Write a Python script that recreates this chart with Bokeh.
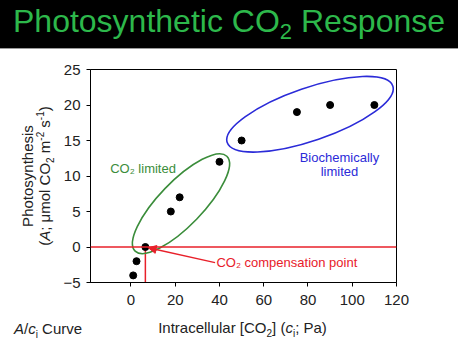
import math
from bokeh.plotting import figure
from bokeh.layouts import column, row
from bokeh.models import Label, Range1d, Span, Arrow, NormalHead, FixedTicker, Div
from bokeh.embed import file_html
from bokeh.resources import INLINE

# ---- data ----
ci = [1, 2.5, 6.5, 18, 22, 40, 50, 75, 90, 110]          # intracellular CO2 (Pa)
A = [-4, -2, 0, 5, 7, 12, 15, 19, 20, 20]                 # photosynthesis
comp_ci = [6.5]                                           # CO2 compensation point
comp_A = [0]
x_ticks = [0, 20, 40, 60, 80, 100, 120]
y_ticks = [-5, 0, 5, 10, 15, 20, 25]
# ellipse groups (centre in data units)
co2_lim_x, co2_lim_y = [22.6], [6.1]
bio_lim_x, bio_lim_y = [80.9], [18.7]

FONT = "Liberation Sans"
GREEN_T = "#2db84b"
GREEN = "#3b8d3b"
BLUE = "#2b2bd8"
RED = "#e8202a"
TXT = "#222222"
FSTYLE = "font-family:'Liberation Sans';font-size:15px;color:%s;" % TXT

# ---- title band ----
band = Div(
    text=('<div style="width:458px;height:49px;background:#000;border-bottom:1px solid #9a9a9a;'
          'color:%s;font-family:\'Liberation Sans\';font-size:32px;line-height:42px;'
          'text-align:center;white-space:nowrap;">Photosynthetic CO'
          '<sub style="font-size:22px;line-height:0;">2</sub> Response</div>') % GREEN_T,
    width=458, height=50, margin=0)

# ---- y axis title (two lines, rotated) ----
PH = 264
ylab = Div(
    text=('<div style="position:relative;width:60px;height:%dpx;%s">'
          '<div style="position:absolute;left:35.5px;top:125.5px;line-height:17px;'
          'text-align:center;white-space:nowrap;transform:translate(-50%%,-50%%) rotate(-90deg);">'
          'Photosynthesis<br>(<i>A</i>; &mu;mol CO<sub style="font-size:10px;line-height:0;">2</sub> '
          'm<sup style="font-size:10px;line-height:0;">-2</sup> s<sup style="font-size:10px;line-height:0;">-1</sup>)'
          '</div></div>') % (PH, FSTYLE),
    width=60, height=PH, margin=0)

# ---- main chart ----
p = figure(width=398, height=PH, output_backend="svg", toolbar_location=None,
           x_range=Range1d(-18.3, 120), y_range=Range1d(-5, 25),
           min_border_left=29, min_border_right=62, min_border_top=19, min_border_bottom=32)
p.grid.visible = False
p.outline_line_color = "black"
p.outline_line_width = 1
p.background_fill_color = "white"
p.border_fill_color = "white"
for ax in (p.xaxis, p.yaxis):
    ax.axis_line_color = "black"
    ax.major_tick_line_color = "black"
    ax.minor_tick_line_color = None
    ax.major_tick_in = 0
    ax.major_tick_out = 4
    ax.major_label_text_font = FONT
    ax.major_label_text_font_size = "15px"
    ax.major_label_text_color = TXT
p.xaxis.ticker = FixedTicker(ticks=x_ticks)
p.yaxis.ticker = FixedTicker(ticks=y_ticks)
p.xaxis.major_label_standoff = 8
p.yaxis.major_label_standoff = 6

# red reference lines
p.add_layout(Span(location=0, dimension="width", line_color=RED, line_width=1.5))
p.segment(x0=comp_ci, y0=[-5], x1=comp_ci, y1=comp_A, line_color=RED, line_width=1.5)

# ellipses
p.ellipse(x=co2_lim_x, y=co2_lim_y, width=132, height=44, angle=math.radians(46),
          width_units="screen", height_units="screen",
          fill_color=None, line_color=GREEN, line_width=1.6)
p.ellipse(x=bio_lim_x, y=bio_lim_y, width=175, height=53, angle=math.radians(18.9),
          width_units="screen", height_units="screen",
          fill_color=None, line_color=BLUE, line_width=1.6)

# points
p.scatter(ci, A, size=7, color="black")

# arrow
p.add_layout(Arrow(x_start=38, y_start=-2.2, x_end=7.8, y_end=-0.1,
                   line_color=RED, line_width=1.5,
                   end=NormalHead(size=8, fill_color=RED, line_color=RED)))

def lab(x, y, text, color, align="left"):
    p.add_layout(Label(x=x, y=y, text=text, text_font=FONT, text_font_size="13px",
                       text_color=color, text_align=align, text_baseline="middle"))

lab(-9.4, 11.1, "CO₂ limited", GREEN)
lab(94.2, 12.6, "Biochemically", BLUE, "center")
lab(94.2, 10.6, "limited", BLUE, "center")
lab(38.6, -2.2, "CO₂ compensation point", RED)

# ---- bottom row: x axis title and panel caption ----
SUB = '<sub style="font-size:10px;line-height:0;">%s</sub>'
xlab = Div(
    text=('<div style="position:relative;width:458px;height:34px;%s">'
          '<span style="position:absolute;left:14px;top:4px;white-space:nowrap;">'
          '<i>A</i>/<i>c</i>' + SUB % 'i' + ' Curve</span>'
          '<span style="position:absolute;left:242.5px;top:3px;white-space:nowrap;transform:translateX(-50%%);">'
          'Intracellular [CO' + SUB % '2' + '] (<i>c</i>' + SUB % 'i' + '; Pa)</span>'
          '</div>') % FSTYLE,
    width=458, height=34, margin=0)

layout = column(band, row(ylab, p, spacing=0), xlab, spacing=0)
open("out.html", "w").write(file_html(layout, INLINE))
